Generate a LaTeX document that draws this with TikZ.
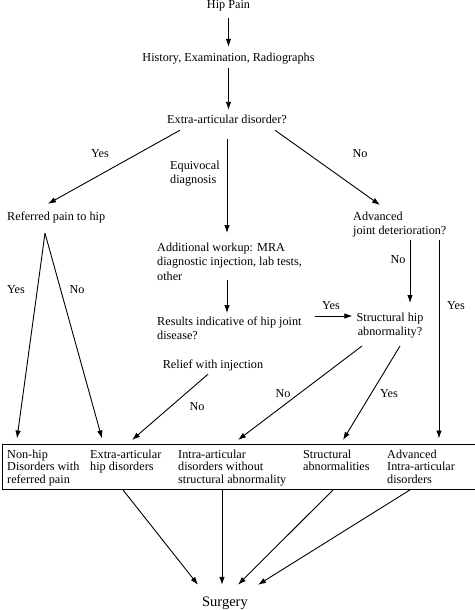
\documentclass[tikz,border=0pt]{standalone}
\usepackage{fontspec}
\setmainfont{Liberation Serif}
\usetikzlibrary{calc,arrows.meta}
\begin{document}
\begin{tikzpicture}[x=1pt,y=-1pt,
  txt/.style={inner sep=0pt, font=\fontsize{12.2}{14.5}\selectfont},
  one/.style={txt, text height=8.5pt, text depth=2.5pt},
  multi/.style={txt, align=left, anchor=north west},
  boxtxt/.style={inner sep=0pt, font=\fontsize{12.2}{12.5}\selectfont, align=left, anchor=north west},
  arr/.style={line width=0.9pt, -{Latex[length=8pt,width=5.5pt]}},
  ln/.style={line width=0.9pt}]
\useasboundingbox (0,0) rectangle (474,610);
% main nodes
\node[one] (hip) at (228.5,6) {Hip Pain};
\node[one] (hist) at (228.5,58) {History, Examination, Radiographs};
\node[one] (ext) at (227,120) {Extra-articular disorder?};
\node[one, anchor=west] (ref) at (7,217) {Referred pain to hip};
\node[multi] (adv) at (353,211.5) {Advanced\\joint deterioration?};
\node[multi] (equ) at (170,160.5) {Equivocal\\diagnosis};
\node[multi] (add) at (157,242.5) {Additional workup: MRA\\diagnostic injection, lab tests,\\other};
\node[multi] (res) at (157,316.5) {Results indicative of hip joint\\disease?};
\node[txt, align=center, anchor=north] (struct) at (390,312.5) {Structural hip\\abnormality?};
\node[one] (relief) at (213,365) {Relief with injection};
% outcome box
\node[draw, line width=0.9pt, minimum width=474pt, minimum height=45pt, anchor=north west, inner sep=0pt] (box) at (2,444) {};
\node[boxtxt] (b1) at (7,449.5) {Non-hip\\Disorders with\\referred pain};
\node[boxtxt] (b2) at (90,449.5) {Extra-articular\\hip disorders};
\node[boxtxt] (b3) at (178,449.5) {Intra-articular\\disorders without\\structural abnormality};
\node[boxtxt] (b4) at (303,449.5) {Structural\\abnormalities};
\node[boxtxt] (b5) at (387,449.5) {Advanced\\Intra-articular\\disorders};
\node[inner sep=0pt, font=\fontsize{14.5}{17}\selectfont, text height=10pt, text depth=3pt] (surg) at (225,603) {Surgery};
% labels
\node[one] (y1) at (100,154) {Yes};
\node[one] (n1) at (360,154) {No};
\node[one] (n2) at (398,260) {No};
\node[one] (y2) at (16,290) {Yes};
\node[one] (n3) at (77,290) {No};
\node[one] (y3) at (331,306) {Yes};
\node[one] (y4) at (456,306) {Yes};
\node[one] (n4) at (197,407) {No};
\node[one] (n5) at (283,394) {No};
\node[one] (y5) at (389,394) {Yes};
% connectors
\draw[arr, shorten <=6.5pt, shorten >=5.5pt] (hip.south) -- (hip.south |- hist.north);
\draw[arr, shorten <=4.5pt, shorten >=4.5pt] (hist.south) -- (hist.south |- ext.north);
\draw[arr] ($(ext.south west)+(13,4.5)$) -- ($(ref.north west)+(41,-7.5)$);
\draw[arr, shorten <=13.5pt, shorten >=9.5pt] (ext.south) -- (ext.south |- add.north);
\draw[arr] ($(ext.south east)+(-12,4.5)$) -- ($(adv.north west)+(27,-6.5)$);
\coordinate (apex) at ($(ref.south west)+(38,10.5)$);
\draw[arr] (apex) -- ($(b1.north west)+(10,-11)$);
\draw[arr] (apex) -- ($(b2.north west)+(12,-11)$);
\draw[arr, shorten >=3.5pt] (ext.south |- add.south) -- (ext.south |- res.north);
\draw[arr] ($(res.north east)+(13,-0.5)$) -- ($(struct.north west)+(-4,3.5)$);
\draw[arr] ($(adv.south west)+(57,2.5)$) -- ($(struct.north)+(20,-9.5)$);
\draw[arr] ($(adv.south west)+(86,2.5)$) -- ($(b5.north west)+(52,-11)$);
\draw[arr] ($(struct.south)+(-28,7.5)$) -- ($(b3.north west)+(60,-9.5)$);
\draw[arr] ($(struct.south)+(10,7.5)$) -- ($(b4.north west)+(40,-9.5)$);
\draw[arr] ($(relief.south)+(-5,3.5)$) -- ($(b2.north west)+(42,-9.5)$);
\draw[arr] ($(b2.north west |- box.south)+(33,0)$) -- ($(surg.north)+(-27,-11.5)$);
\draw[arr] ($(b3.north west |- box.south)+(44,0)$) -- ($(surg.north)+(-3,-11.5)$);
\draw[arr] ($(b4.north west |- box.south)+(30,0)$) -- ($(surg.north)+(13,-11.5)$);
\draw[arr] ($(b5.north west |- box.south)+(23,0)$) -- ($(surg.north)+(33,-11.5)$);
\end{tikzpicture}
\end{document}
